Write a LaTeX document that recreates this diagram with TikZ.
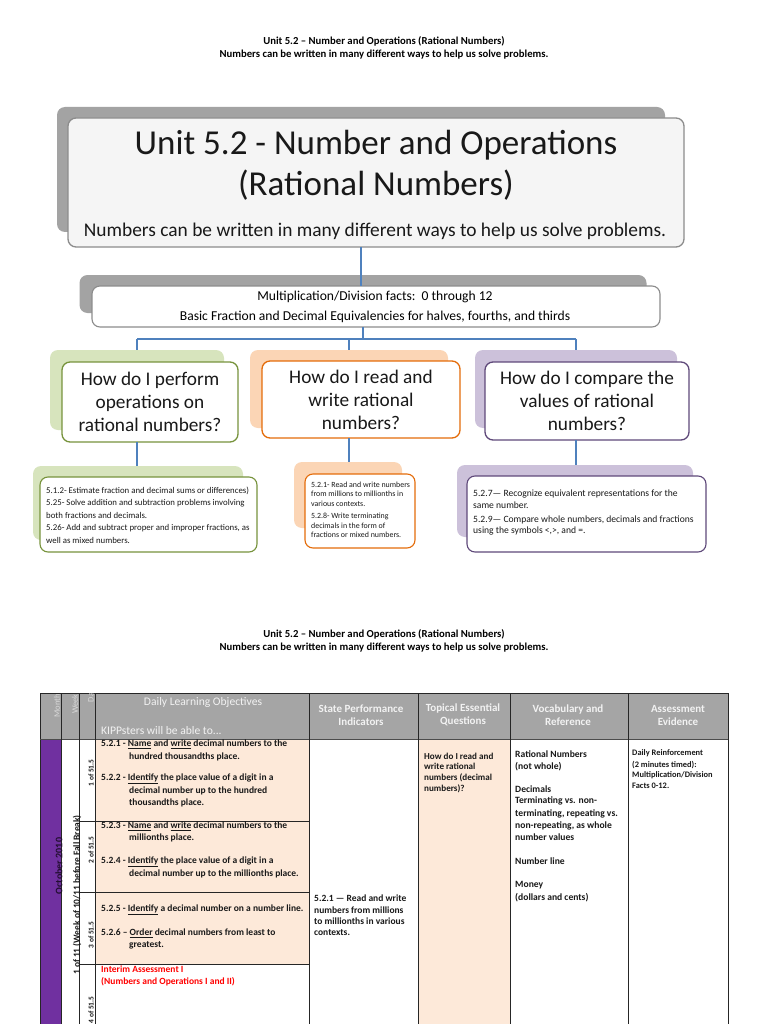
\documentclass[tikz,border=0pt]{standalone}
\usepackage{fontspec}
\setmainfont{Carlito}
\newcommand\fsz[1]{\fontsize{#1}{#1}\selectfont}
\definecolor{blueline}{HTML}{4F81BD}
\definecolor{tgray}{HTML}{A3A3A3}
\definecolor{bgray}{HTML}{8C8C8C}
\definecolor{greenB}{HTML}{77933C}
\definecolor{greenS}{HTML}{D7E4BD}
\definecolor{orangeB}{HTML}{E46C0A}
\definecolor{orangeS}{HTML}{FBD5B5}
\definecolor{purpleB}{HTML}{5F497A}
\definecolor{purpleS}{HTML}{CCC1DA}
\definecolor{peach}{HTML}{FDE9D9}
\definecolor{hdrgray}{HTML}{A5A5A5}
\definecolor{monthp}{HTML}{7030A0}
\begin{document}
\begin{tikzpicture}[x=1pt,y=-1pt,
  shbox/.style={rounded corners=8pt, inner sep=0, outer sep=0},
  frbox/.style={draw, rounded corners=8pt, fill=white, inner sep=0, outer sep=0, line width=1.3pt},
  conn/.style={draw=blueline, line width=1.4pt},
  tline/.style={draw=black!85, line width=0.9pt},
  hdr/.style={font=\fsz{11}\bfseries, text=white!95!black, align=center, inner sep=0},
  obj/.style={anchor=west, inner sep=0, font=\fsz{9.5}\bfseries, text=black!90},
  cell/.style={anchor=west, inner sep=0, font=\fsz{9.5}\bfseries, text=black!90},
  sm/.style={anchor=west, inner sep=0, text=black!90},
  rot/.style={rotate=90, inner sep=0, font=\fsz{7.4}\bfseries, text=black!90}]
\useasboundingbox (0,0) rectangle (768,1024);
\fill[white] (0,0) rectangle (768,1024);

% ---- top header
\node[font=\fsz{10.7}\bfseries, inner sep=0] (h1) at (384,41) {Unit 5.2 – Number and Operations (Rational Numbers)};
\node[font=\fsz{10.7}\bfseries, inner sep=0] (h2) at (384,54.5) {Numbers can be written in many different ways to help us solve problems.};

% ---- title box
\node[shbox, fill=tgray, minimum width=608, minimum height=125] (tsh) at (361,169.5) {};
\node[frbox, draw=bgray, fill=white!96!black, minimum width=616, minimum height=129] (title) at (376,182.5) {};
\node[font=\fsz{35}, align=center, inner sep=0, text=black!90] (tt) at (376,165.5) {Unit 5.2 - Number and Operations\\[6pt](Rational Numbers)};
\node[font=\fsz{19.4}, inner sep=0, text=black!90] (ts) at (375,231) {Numbers can be written in many different ways to help us solve problems.};

% ---- facts box
\node[shbox, fill=tgray, minimum width=567, minimum height=38] (fsh) at (363,294) {};
\node[frbox, draw=bgray, minimum width=568, minimum height=41, line width=1.1pt] (facts) at (376,306.5) {};
\node[font=\fsz{13.6}, inner sep=0] (f1) at (375,297) {Multiplication/Division facts:\ \ 0 through 12};
\node[font=\fsz{13.6}, inner sep=0] (f2) at (375,317) {Basic Fraction and Decimal Equivalencies for halves, fourths, and thirds};

% ---- question boxes
\node[shbox, fill=greenS, minimum width=174, minimum height=80] (q1sh) at (137,390) {};
\node[shbox, fill=orangeS, minimum width=198, minimum height=78] (q2sh) at (349,389) {};
\node[shbox, fill=purpleS, minimum width=202, minimum height=78] (q3sh) at (576,389) {};
\node[frbox, draw=greenB, minimum width=176, minimum height=80] (q1) at (150,402) {};
\node[frbox, draw=orangeB, minimum width=198, minimum height=77] (q2) at (361,399.5) {};
\node[frbox, draw=purpleB, minimum width=204, minimum height=78] (q3) at (587,401) {};
\node[font=\fsz{19.3}, align=center, inner sep=0, text=black!90] (q1t) at (150,402) {How do I perform\\[4pt]operations on\\[4pt]rational numbers?};
\node[font=\fsz{19.3}, align=center, inner sep=0, text=black!90] (q2t) at (361,400) {How do I read and\\[4pt]write rational\\[4pt]numbers?};
\node[font=\fsz{19.3}, align=center, inner sep=0, text=black!90] (q3t) at (587,401) {How do I compare the\\[4pt]values of rational\\[4pt]numbers?};

% ---- small boxes
\node[shbox, fill=greenS, minimum width=210, minimum height=74] (s1sh) at (138,503) {};
\node[shbox, fill=orangeS, minimum width=108, minimum height=66] (s2sh) at (348,495) {};
\node[shbox, fill=purpleS, minimum width=236, minimum height=72] (s3sh) at (575,501) {};
\node[frbox, draw=greenB, minimum width=217, minimum height=75, line width=1.1pt] (s1) at (148.5,514.5) {};
\node[frbox, draw=orangeB, minimum width=110, minimum height=74, line width=1.1pt] (s2) at (360,511) {};
\node[frbox, draw=purpleB, minimum width=239, minimum height=76, line width=1.1pt] (s3) at (586.5,514) {};

\node[sm, font=\fsz{8.8}] (a1) at (46,491) {5.1.2- Estimate fraction and decimal sums or differences)};
\node[sm, font=\fsz{8.8}] (a2) at (46,503) {5.25- Solve addition and subtraction problems involving};
\node[sm, font=\fsz{8.8}] (a3) at (46,515.5) {both fractions and decimals.};
\node[sm, font=\fsz{8.8}] (a4) at (46,528) {5.26- Add and subtract proper and improper fractions, as};
\node[sm, font=\fsz{8.8}] (a5) at (46,540) {well as mixed numbers.};

\node[sm, font=\fsz{7.9}] (b1) at (311,484.5) {5.2.1- Read and write numbers};
\node[sm, font=\fsz{7.9}] (b2) at (311,494) {from millions to millionths in};
\node[sm, font=\fsz{7.9}] (b3) at (311,504) {various contexts.};
\node[sm, font=\fsz{7.9}] (b4) at (311,516) {5.2.8- Write terminating};
\node[sm, font=\fsz{7.9}] (b5) at (311,525.5) {decimals in the form of};
\node[sm, font=\fsz{7.9}] (b6) at (311,535) {fractions or mixed numbers.};

\node[sm, font=\fsz{9.6}] (c1) at (473,494) {5.2.7— Recognize equivalent representations for the};
\node[sm, font=\fsz{9.6}] (c2) at (473,505) {same number.};
\node[sm, font=\fsz{9.6}] (c3) at (473,520) {5.2.9— Compare whole numbers, decimals and fractions};
\node[sm, font=\fsz{9.6}] (c4) at (473,531) {using the symbols <,>, and =.};

% ---- connectors
\coordinate (bus) at (0,339);
\draw[conn] (tsh.center |- title.south) -- (tsh.center |- facts.north);
\draw[conn] (fsh.center |- facts.south) -- (fsh.center |- bus);
\draw[conn] (q1sh.center |- bus) -- (q3sh.center |- bus);
\draw[conn] (q1sh.center |- bus) -- (q1sh.north);
\draw[conn] (q2sh.center |- bus) -- (q2sh.north);
\draw[conn] (q3sh.center |- bus) -- (q3sh.north);
\draw[conn] (q1sh.center |- q1.south) -- (s1sh.north -| q1sh.center);
\draw[conn] (q2sh.center |- q2.south) -- (s2sh.north -| q2sh.center);
\draw[conn] (q3sh.center |- q3.south) -- (s3sh.north -| q3sh.center);

% ---- second header
\node[font=\fsz{10.7}\bfseries, inner sep=0] (h3) at (384,634) {Unit 5.2 – Number and Operations (Rational Numbers)};
\node[font=\fsz{10.7}\bfseries, inner sep=0] (h4) at (384,647.5) {Numbers can be written in many different ways to help us solve problems.};

% ---- table fills
\fill[hdrgray] (40,693) rectangle (728,739);
\fill[monthp] (40,739) rectangle (61,1024);
\fill[peach] (95,739) rectangle (309,964);
\fill[peach] (418,739) rectangle (510,1024);

% ---- table lines
\draw[tline] (40,693) rectangle (728,1030);
\draw[tline, draw=black!70] (40,739) -- (728,739);
\foreach \xx in {61,79,95,309,418,510,628}
  \draw[tline] (\xx,693) -- (\xx,1030);
\foreach \yy in {821,892,964}
  \draw[tline] (79,\yy) -- (309,\yy);

% ---- header texts
\begin{scope}
\clip (40,693) rectangle (95,739);
\node[rotate=90, anchor=east, inner sep=0, font=\fsz{8.5}, text=white!85!black] (mh) at (57,694) {Month};
\node[rotate=90, anchor=east, inner sep=0, font=\fsz{8.5}, text=white!85!black] (wh) at (75,694) {Week};
\node[rotate=90, anchor=east, inner sep=0, font=\fsz{8.5}, text=white!85!black] (dh) at (91.5,689) {Day};
\end{scope}
\node[hdr, font=\fsz{11.6}] (o1) at (203,702) {Daily Learning Objectives};
\node[hdr, anchor=west, font=\fsz{11.6}] (o2) at (101,731) {KIPPsters will be able to...};
\node[hdr] (hs) at (361,715) {State Performance\\[2pt]Indicators};
\node[hdr] (ht) at (463,715) {Topical Essential\\[2pt]Questions};
\node[hdr] (hv) at (568,715) {Vocabulary and\\[2pt]Reference};
\node[hdr] (ha) at (678,715) {Assessment\\[2pt]Evidence};

% ---- rotated body labels
\node[rot, font=\fsz{10}\bfseries, text=black!70!monthp] (mon) at (59,866) {October 2010};
\node[rot, font=\fsz{9.4}\bfseries] (wk) at (77,895) {1 of 11 (Week of 10/11 before Fall Break)};
\node[rot] (d1) at (91,773) {1 of 51.5};
\node[rot] (d2) at (91,850) {2 of 51.5};
\node[rot] (d3) at (91,935) {3 of 51.5};
\node[rot] (d4) at (91,1010) {4 of 51.5};

% ---- objectives
\node[obj] (r1) at (101,744) {5.2.1 - \underline{Name} and \underline{write} decimal numbers to the};
\node[obj] (r2) at (129,756.5) {hundred thousandths place.};
\node[obj] (r3) at (101,779) {5.2.2 - \underline{Identify} the place value of a digit in a};
\node[obj] (r4) at (129,791) {decimal number up to the hundred};
\node[obj] (r5) at (129,803) {thousandths place.};
\node[obj] (r6) at (101,826) {5.2.3 - \underline{Name} and \underline{write} decimal numbers to the};
\node[obj] (r7) at (129,838) {millionths place.};
\node[obj] (r8) at (101,862) {5.2.4 - \underline{Identify} the place value of a digit in a};
\node[obj] (r9) at (129,874) {decimal number up to the millionths place.};
\node[obj] (r10) at (101,909.5) {5.2.5 - \underline{Identify} a decimal number on a number line.};
\node[obj] (r11) at (101,933) {5.2.6 – \underline{Order} decimal numbers from least to};
\node[obj] (r12) at (129,945) {greatest.};
\node[obj, text=red] (r13) at (101,969) {Interim Assessment I};
\node[obj, text=red] (r14) at (101,982) {(Numbers and Operations I and II)};

% ---- other columns
\node[cell] (p1) at (314,898) {5.2.1 — Read and write};
\node[cell] (p2) at (314,910) {numbers from millions};
\node[cell] (p3) at (314,921.5) {to millionths in various};
\node[cell] (p4) at (314,933) {contexts.};

\node[cell, font=\fsz{9.1}\bfseries] (e1) at (424,756) {How do I read and};
\node[cell, font=\fsz{9.1}\bfseries] (e2) at (424,766.5) {write rational};
\node[cell, font=\fsz{9.1}\bfseries] (e3) at (424,777.5) {numbers (decimal};
\node[cell, font=\fsz{9.1}\bfseries] (e4) at (424,788.5) {numbers)?};

\node[cell, font=\fsz{9.6}\bfseries] (v1) at (515,754) {Rational Numbers};
\node[cell, font=\fsz{9.6}\bfseries] (v2) at (515,766.5) {(not whole)};
\node[cell, font=\fsz{9.6}\bfseries] (v3) at (515,789) {Decimals};
\node[cell, font=\fsz{9.6}\bfseries] (v4) at (515,801) {Terminating vs. non-};
\node[cell, font=\fsz{9.6}\bfseries] (v5) at (515,813.5) {terminating, repeating vs.};
\node[cell, font=\fsz{9.6}\bfseries] (v6) at (515,826) {non-repeating, as whole};
\node[cell, font=\fsz{9.6}\bfseries] (v7) at (515,837.5) {number values};
\node[cell, font=\fsz{9.6}\bfseries] (v8) at (515,861) {Number line};
\node[cell, font=\fsz{9.6}\bfseries] (v9) at (515,885) {Money};
\node[cell, font=\fsz{9.6}\bfseries] (v10) at (515,898) {(dollars and cents)};

\node[cell, font=\fsz{8.4}\bfseries] (x1) at (632,753) {Daily Reinforcement};
\node[cell, font=\fsz{8.4}\bfseries] (x2) at (632,765) {(2 minutes timed):};
\node[cell, font=\fsz{8.4}\bfseries] (x3) at (632,775.5) {Multiplication/Division};
\node[cell, font=\fsz{8.4}\bfseries] (x4) at (632,786) {Facts 0-12.};
\end{tikzpicture}
\end{document}
